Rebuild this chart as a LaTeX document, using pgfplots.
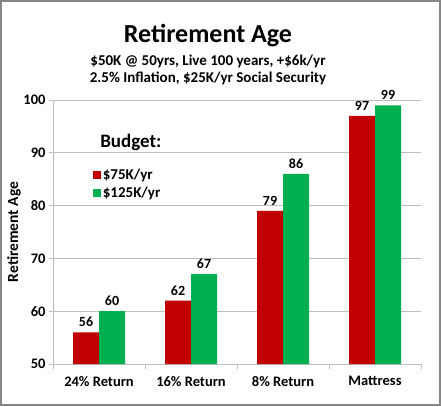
\documentclass[border=0pt]{standalone}
\usepackage{pgfplots}
\pgfplotsset{compat=1.18}
\usepackage{fontspec}
\setmainfont{Carlito}
\definecolor{cred}{HTML}{C00000}
\definecolor{cgreen}{HTML}{00B050}
\definecolor{frame}{HTML}{868686}
\definecolor{gridc}{HTML}{BEBEBE}
\begin{document}
\begin{tikzpicture}[x=1bp,y=1bp]
\useasboundingbox (0,0) rectangle (441,406);
\fill[white] (0,0) rectangle (441,406);
\draw[frame,line width=2bp] (1,1) rectangle (440,405);
\node[anchor=base,font=\fontsize{26bp}{30bp}\selectfont\bfseries] at (208,364) {Retirement Age};
\node[anchor=base,font=\fontsize{15bp}{17bp}\selectfont\bfseries] at (208,341) {\$50K @ 50yrs, Live 100 years, +\$6k/yr};
\node[anchor=base,font=\fontsize{15bp}{17bp}\selectfont\bfseries] at (208,324) {2.5\% Inflation, \$25K/yr Social Security};
\begin{axis}[
  at={(53bp,42bp)}, anchor=south west,
  scale only axis, width=368bp, height=264bp,
  ybar=0pt, bar width=26bp,
  xmin=-0.5, xmax=3.5, ymin=50, ymax=100,
  xtick={0,1,2,3},
  xticklabels={24\% Return,16\% Return,8\% Return,Mattress},
  minor xtick={-0.5,0.5,1.5,2.5,3.5},
  ytick={50,60,70,80,90,100},
  axis x line*=bottom, axis y line*=left,
  axis line style={gridc, line width=0.8bp},
  x axis line style={-}, y axis line style={-},
  major x tick style={draw=none},
  minor x tick style={gridc, line width=0.8bp},
  y tick style={gridc, line width=0.8bp},
  tick align=outside, major tick length=4bp, minor tick length=5bp,
  ymajorgrids, grid style={gridc, line width=0.8bp},
  tick label style={font=\fontsize{14.5bp}{16bp}\selectfont\bfseries},
  /pgf/number format/assume math mode=true,
  ylabel={Retirement Age},
  ylabel style={font=\fontsize{15.5bp}{17bp}\selectfont\bfseries, at={(axis description cs:-0.106,0.5)}, anchor=center, inner sep=0pt},
  xticklabel style={yshift=-5bp},
  nodes near coords,
  nodes near coords style={font=\fontsize{14bp}{16bp}\selectfont\bfseries, black, yshift=2bp},
  every node near coord/.append style={/pgf/number format/assume math mode=true},
  legend style={at={(0.105,0.75)}, anchor=north west, draw=none, fill=none,
    font=\fontsize{15bp}{17bp}\selectfont\bfseries, row sep=2bp,
    inner sep=1bp, legend cell align=left},
  legend image code/.code={\fill[#1] (0bp,-4bp) rectangle (8bp,4bp);},
]
\addplot[fill=cred, draw=none] coordinates {(0,56) (1,62) (2,79) (3,97)};
\addplot[fill=cgreen, draw=none] coordinates {(0,60) (1,67) (2,86) (3,99)};
\legend{\$75K/yr,\$125K/yr}
\node[anchor=base west, inner sep=0pt, font=\fontsize{19bp}{22bp}\selectfont\bfseries] at (rel axis cs:0.128,0.82) {Budget:};
\end{axis}
\end{tikzpicture}
\end{document}
